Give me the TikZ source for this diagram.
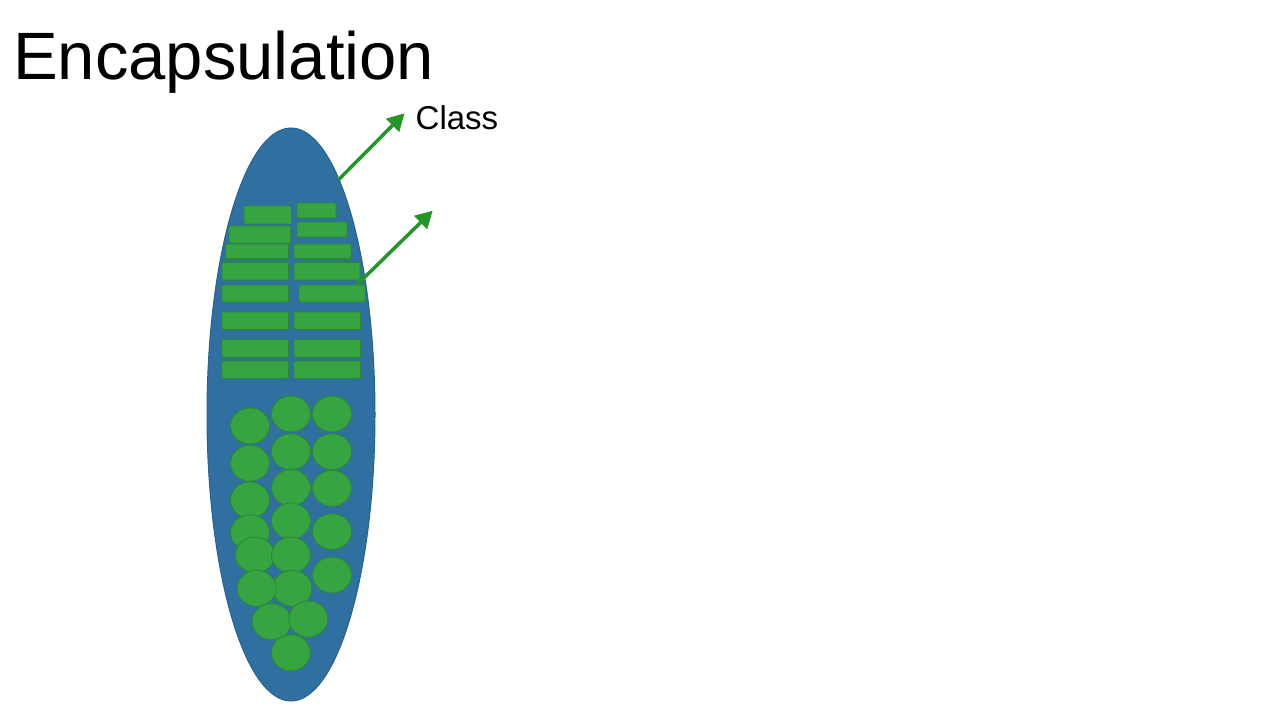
\documentclass[tikz,border=0pt]{standalone}
\usepackage{fontspec}
\setmainfont{Liberation Sans}
\usetikzlibrary{arrows.meta}
\definecolor{capblue}{RGB}{47,112,160}
\definecolor{capblueedge}{RGB}{40,98,145}
\definecolor{capgreen}{RGB}{54,164,64}
\definecolor{capgreenedge}{RGB}{40,138,50}
\definecolor{arrowgreen}{RGB}{36,150,40}
\tikzset{
  memberbox/.style={fill=capgreen, draw=capgreenedge, line width=0.8pt, rounded corners=1pt},
  memberdot/.style={fill=capgreen, draw=capgreenedge, line width=0.8pt},
  pointer/.style={draw=arrowgreen, line width=3.5pt, -{Triangle[length=17pt,width=18pt]}},
  titletext/.style={inner sep=0pt, anchor=base west, font=\fontsize{67}{67}\selectfont},
  labeltext/.style={inner sep=0pt, anchor=base west, font=\fontsize{33}{33}\selectfont}
}
\begin{document}
\begin{tikzpicture}[x=1pt,y=-1pt]
\useasboundingbox (0,0) rectangle (1280,720);
\fill[white] (0,0) rectangle (1280,720);
% title
\node[titletext] (title) at (13,79) {Encapsulation};
% capsule body
\fill[capblue, draw=capblueedge, line width=1pt] (291,414.5) ellipse [x radius=84, y radius=286.5];
% member boxes
\foreach \xa/\ya/\xb/\yb in {
  244/206/291.5/224, 297/203/336/218,
  229/226/290.5/243, 297/222/347/237,
  225.5/244/288.5/258.5, 294/244/351/258.5,
  222/262.5/288.5/280, 294/262.5/360/280,
  222/285/288.5/302, 299/285/365/302,
  222/312/288.5/329.5, 294/312/360.5/329.5,
  222/339.5/288.5/357.5, 294/339.5/360.5/357.5,
  222/361/288.5/378.5, 294/361/360.5/378.5}
  \draw[memberbox] (\xa,\ya) rectangle (\xb,\yb);
% member dots
\foreach \cx/\cy in {
  291/414, 332/414, 250/426,
  291/451.7, 332/451.7, 250/463.3,
  291/487.7, 332/488.3, 250/500,
  291/521, 250/532.7, 332/531.7,
  255/555, 291/555, 332/575,
  292.3/588.3, 256.7/588.3,
  271.7/621.7, 308.3/619,
  291/652.7}
  \draw[memberdot] (\cx,\cy) ellipse [x radius=19.5, y radius=18];
% pointers
\coordinate (p1s) at (338.3,180);
\coordinate (p1e) at (404.5,113.3);
\coordinate (p2s) at (356.7,285);
\coordinate (p2e) at (432.7,210.7);
\draw[pointer] (p1s) -- (p1e);
\draw[pointer] (p2s) -- (p2e);
% label
\node[labeltext] (classlabel) at (415.5,129.5) {Class};
\end{tikzpicture}
\end{document}
